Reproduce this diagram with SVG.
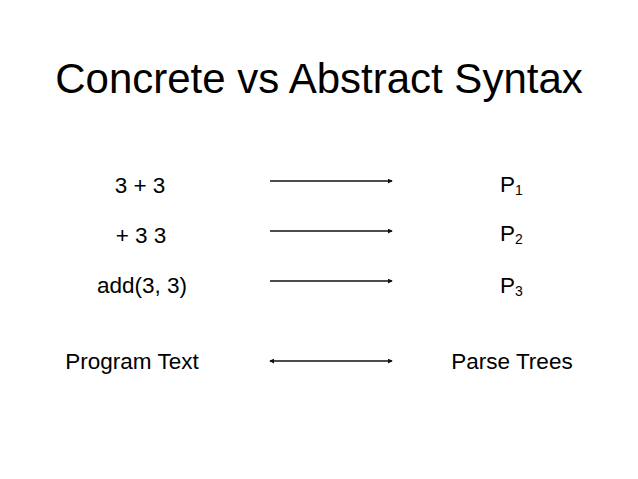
<svg xmlns="http://www.w3.org/2000/svg" width="638" height="479" viewBox="0 0 638 479">
<style>
text{font-family:"Liberation Sans",Arial,sans-serif;fill:#000}
.t{font-size:22.5px}
.s{font-size:14px}
.c{stroke:#111;stroke-width:1.5;fill:none}
</style>
<defs>
<marker id="ah" viewBox="0 0 6 6" refX="5" refY="3" markerWidth="5" markerHeight="5" orient="auto-start-reverse" markerUnits="userSpaceOnUse"><path d="M0,0 L6,3 L0,6 z" fill="#111"/></marker>
</defs>
<rect width="638" height="479" fill="#fff"/>
<text id="title" x="319" y="93" font-size="42" text-anchor="middle">Concrete vs Abstract Syntax</text>
<g id="n1"><text class="t" x="140" y="193" text-anchor="middle">3 + 3</text></g>
<g id="n2"><text class="t" x="141" y="243" text-anchor="middle">+ 3 3</text></g>
<g id="n3"><text class="t" x="142" y="293" text-anchor="middle">add(3, 3)</text></g>
<g id="n4"><text class="t" x="132" y="369" text-anchor="middle">Program Text</text></g>
<g id="p1"><text class="t" x="500" y="192">P<tspan class="s" dy="3">1</tspan></text></g>
<g id="p2"><text class="t" x="500" y="241">P<tspan class="s" dy="3">2</tspan></text></g>
<g id="p3"><text class="t" x="500" y="293">P<tspan class="s" dy="3">3</tspan></text></g>
<g id="p4"><text class="t" x="512" y="369" text-anchor="middle">Parse Trees</text></g>
<g id="connectors">
<line class="c" x1="270" y1="181" x2="392" y2="181" marker-end="url(#ah)"/>
<line class="c" x1="270" y1="231" x2="392" y2="231" marker-end="url(#ah)"/>
<line class="c" x1="270" y1="281" x2="392" y2="281" marker-end="url(#ah)"/>
<line class="c" x1="270" y1="361" x2="392" y2="361" marker-start="url(#ah)" marker-end="url(#ah)"/>
</g>
</svg>
